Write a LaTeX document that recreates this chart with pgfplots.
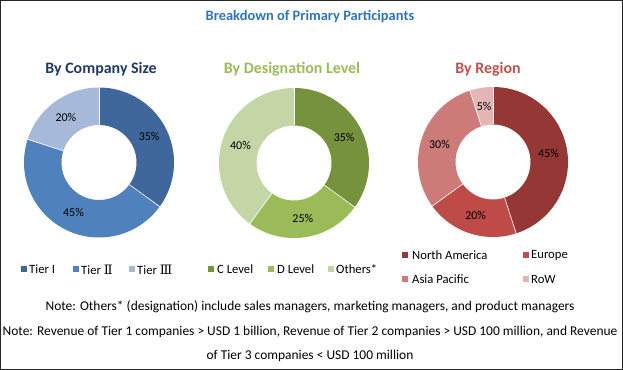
\documentclass[border=0pt]{standalone}
\usepackage{pgfplots}
\pgfplotsset{compat=1.18}
\usepgfplotslibrary{polar}
\usepackage{fontspec}
\setmainfont{Carlito}
\newfontfamily\dejavu{DejaVu Serif}

\definecolor{tierA}{HTML}{3F679C}
\definecolor{tierB}{HTML}{4F81BD}
\definecolor{tierC}{HTML}{A7B9D9}
\definecolor{desA}{HTML}{76923C}
\definecolor{desB}{HTML}{9BBB59}
\definecolor{desC}{HTML}{C4D6A6}
\definecolor{regA}{HTML}{953735}
\definecolor{regB}{HTML}{BE4B48}
\definecolor{regC}{HTML}{CD7B79}
\definecolor{regD}{HTML}{E3B6B5}
\definecolor{titleblue}{HTML}{2E75B6}
\definecolor{navy}{HTML}{1F3864}
\definecolor{regtitle}{HTML}{C0504D}

% #1 colour, #2 cumulative share before the slice (%), #3 share (%)
\newcommand{\slice}[3]{%
  \addplot[draw=#1, line width=37.5bp, domain={90-3.6*(#2)}:{90-3.6*((#2)+(#3))}, samples=90] {0.75};
}
\newcommand{\sep}[1]{%
  \addplot[draw=white, line width=0.6bp] coordinates {({90-3.6*(#1)},0.5) ({90-3.6*(#1)},1)};
}
\newcommand{\lab}[3]{% cumulative, share, text
  \node[font=\fontsize{12}{14}\selectfont] at (axis cs:{90-3.6*((#1)+(#2)/2)},0.75) {#3};
}

\pgfplotsset{donut/.style={hide axis, scale only axis, width=150bp, height=150bp,
  ymin=0, ymax=1, anchor=center, clip=false}}

\begin{document}
\begin{tikzpicture}
\path[use as bounding box] (0,0) rectangle (623bp,370bp);

% By Company Size
\begin{polaraxis}[donut, at={(99bp,207.5bp)}]
\slice{tierA}{0}{35}
\slice{tierB}{35}{45}
\slice{tierC}{80}{20}
\sep{0}\sep{35}\sep{80}
\lab{0}{35}{35\%}
\lab{35}{45}{45\%}
\lab{80}{20}{20\%}
\end{polaraxis}

% By Designation Level
\begin{polaraxis}[donut, at={(294bp,207bp)}]
\slice{desA}{0}{35}
\slice{desB}{35}{25}
\slice{desC}{60}{40}
\sep{0}\sep{35}\sep{60}
\lab{0}{35}{35\%}
\lab{35}{25}{25\%}
\lab{60}{40}{40\%}
\end{polaraxis}

% By Region
\begin{polaraxis}[donut, at={(493bp,208bp)}]
\slice{regA}{0}{45}
\slice{regB}{45}{20}
\slice{regC}{65}{30}
\slice{regD}{95}{5}
\sep{0}\sep{45}\sep{65}\sep{95}
\lab{0}{45}{45\%}
\lab{45}{20}{20\%}
\lab{65}{30}{30\%}
\lab{95}{5}{5\%}
\end{polaraxis}

\begin{scope}[x=1bp,y=1bp]
\draw[line width=1.3bp, black!85] (0.65,0.65) rectangle (622.35,369.35);

\node[font=\fontsize{14.5}{16}\selectfont\bfseries, text=titleblue] at (310,353) {Breakdown of Primary Participants};
\node[font=\fontsize{16}{18}\selectfont\bfseries, text=navy] at (101,301) {By Company Size};
\node[font=\fontsize{16}{18}\selectfont\bfseries, text=desB] at (292,301) {By Designation Level};
\node[font=\fontsize{16}{18}\selectfont\bfseries, text=regtitle] at (488,301) {By Region};

\tikzset{lt/.style={anchor=west, inner sep=0pt, font=\fontsize{12.7}{14}\selectfont}}
% legend company
\fill[tierA] (21,97.5) rectangle (27,103.5); \node[lt] at (29,100.5) {Tier I};
\fill[tierB] (73,97.5) rectangle (79,103.5); \node[lt] at (81,100.5) {Tier {\dejavu\fontsize{13}{14}\selectfont Ⅱ}};
\fill[tierC] (129,97.5) rectangle (135,103.5); \node[lt] at (137,100.5) {Tier {\dejavu\fontsize{13}{14}\selectfont Ⅲ}};
% legend designation
\fill[desA] (208,97.5) rectangle (214,103.5); \node[lt] at (217,100.5) {C Level};
\fill[desB] (268,97.5) rectangle (274,103.5); \node[lt] at (277,100.5) {D Level};
\fill[desC] (328,97.5) rectangle (334,103.5); \node[lt] at (336,100.5) {Others*};
% legend region
\fill[regA] (402,112) rectangle (408,118); \node[lt] at (412,115) {North America};
\fill[regB] (523,112) rectangle (529,118); \node[lt] at (531,115) {Europe};
\fill[regC] (402,87.5) rectangle (408,93.5); \node[lt] at (412,90.5) {Asia Pacific};
\fill[regD] (523,87.5) rectangle (529,93.5); \node[lt] at (531,90.5) {RoW};

\tikzset{nt/.style={inner sep=0pt, font=\fontsize{13.5}{15}\selectfont}}
\node[nt] at (310,63) {Note: Others* (designation) include sales managers, marketing managers, and product managers};
\node[nt] at (310,38) {Note: Revenue of Tier 1 companies > USD 1 billion, Revenue of Tier 2 companies > USD 100 million, and Revenue};
\node[nt] at (310,14) {of Tier 3 companies < USD 100 million};
\end{scope}
\end{tikzpicture}
\end{document}
